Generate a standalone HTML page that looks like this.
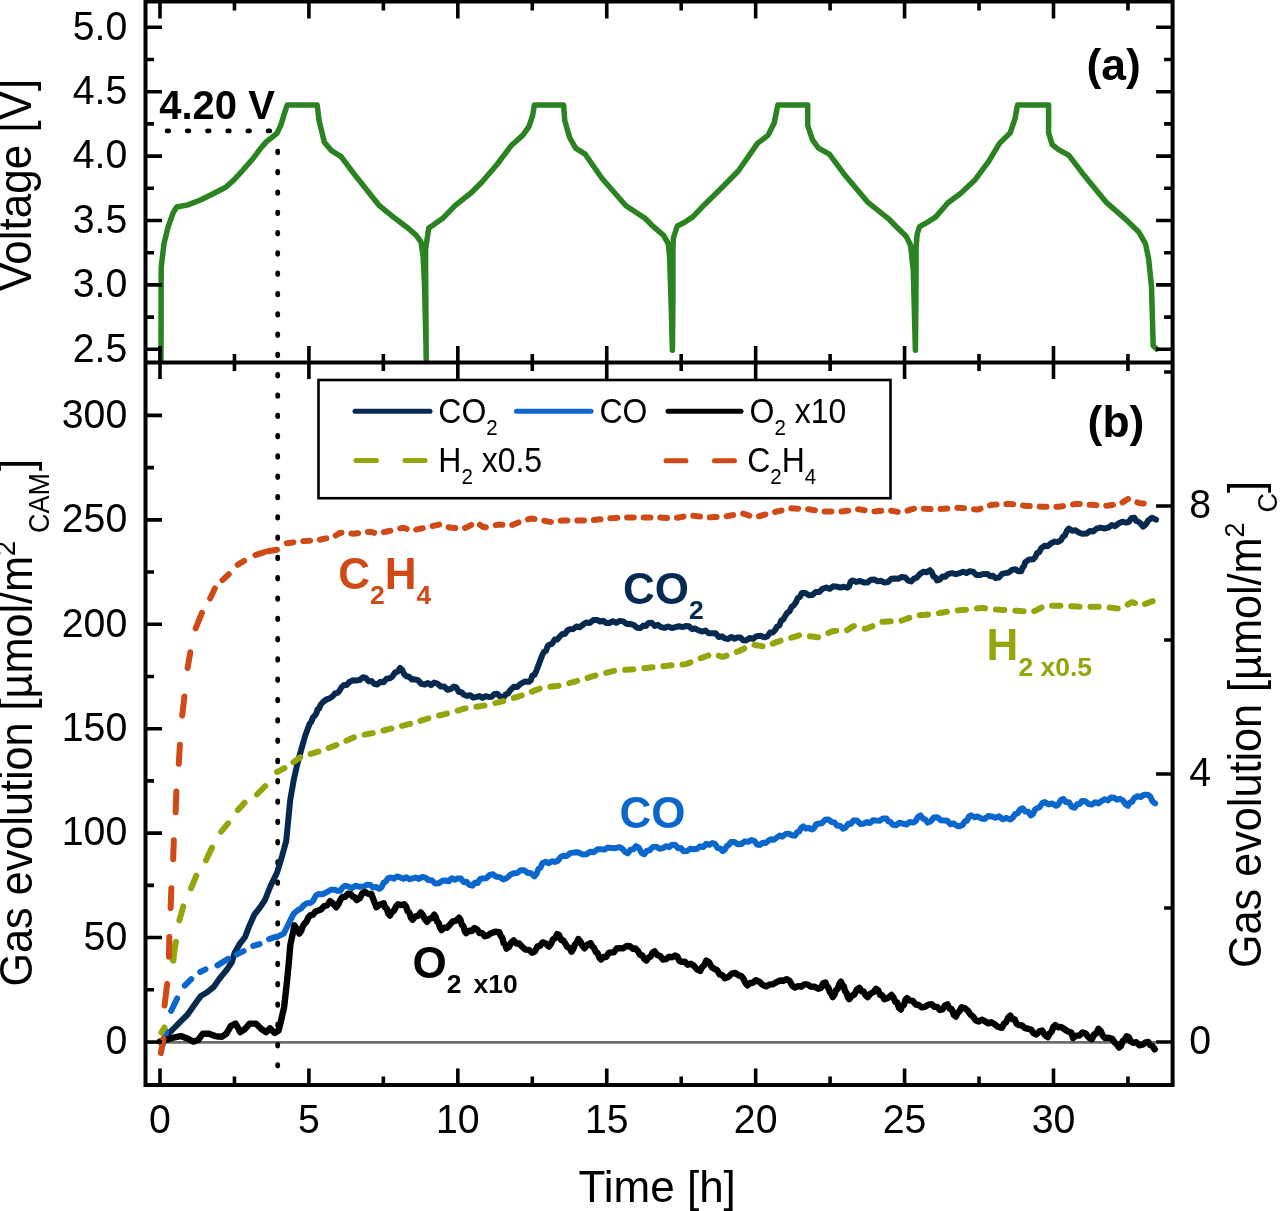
<!DOCTYPE html>
<html><head><meta charset="utf-8"><title>Gas evolution</title>
<style>html,body{margin:0;padding:0;background:#fff;}svg{display:block;}</style>
</head><body>
<svg width="1280" height="1211" viewBox="0 0 1280 1211" font-family="'Liberation Sans', Arial, Helvetica, sans-serif">

<rect x="0" y="0" width="1280" height="1211" fill="#fff"/>
<path d="M147.5 1042.4 H1156" stroke="#6d6d6d" stroke-width="2.8" fill="none"/>
<path d="M277.7 151.2 V1066" stroke="#000" stroke-width="4.8" stroke-linecap="round" stroke-dasharray="1.6 18.7" fill="none"/>
<path d="M167.1 130.9 H272" stroke="#000" stroke-width="4.8" stroke-linecap="round" stroke-dasharray="1.6 18.6" fill="none"/>
<path d="M161 360 L161.2 267.3 L164 243.5 L168.2 226.6 L173.2 212.6 L176.7 207 L187.9 204.9 L200.5 200 L213.1 193.7 L225.8 187.3 L234.2 179.6 L242.6 170.5 L252.4 159.3 L260.8 148.1 L266.5 141.7 L277 133.3 L281.2 124.2 L283.6 115.9 L287.2 105 L317.2 105 L319.1 120.7 L324.3 142.2 L331.5 150.6 L341.1 156.6 L355.5 175.8 L379.4 205.7 L395 218.3 L406.2 226.7 L416.1 235.1 L421 242.1 L423.1 256.2 L424.5 284.3 L425.9 340.4 L426.2 359.5 L426 330 L425.6 270 L425.6 249.2 L428.7 228.1 L432.9 225.3 L442.8 218.3 L455 205.6 L471.5 192.5 L482.2 181.7 L496.6 165 L511 145.8 L522.9 135.1 L528.9 126.7 L532.5 115.9 L534.4 105 L563.6 105 L564.8 120.7 L569.6 137.5 L575.6 148.2 L585.2 154.2 L601.9 178.2 L625.9 205.7 L645 218.3 L653.4 226.7 L663.3 235.1 L668.2 243.5 L669.6 256.2 L671 298.3 L672.4 350.3 L672.9 300 L672.9 249 L673.4 238 L677.3 226 L684.3 222.5 L692.8 216.9 L705 204.2 L720.5 189 L738.3 171 L757.5 143.4 L768.2 135.1 L774.2 123.1 L777.8 105 L807.7 105 L807.7 125.5 L812.5 139.9 L818.5 148.2 L829.3 154.2 L843.6 173.4 L867.6 202.1 L888 218.3 L896.4 226.7 L906.3 236.5 L910.5 245 L913.3 270.2 L915.4 350.3 L915.9 300 L916.1 246.3 L917.2 234 L919.6 226.7 L925.9 223.2 L935.8 216.9 L948 202.8 L960.5 193.5 L974.4 180.6 L988.7 161.4 L999.5 143.4 L1010.3 132.7 L1015.1 118.3 L1017.5 105 L1048.6 105 L1048.6 132.7 L1052.2 144.6 L1058.2 149.4 L1068.9 155.4 L1084.5 175.8 L1106 202.1 L1125.2 218.9 L1139 232.3 L1145.6 244 L1148.75 259.7 L1151.5 287 L1153.2 345.6 L1156.6 349" stroke="#2b8221" stroke-width="5.5" fill="none" stroke-linejoin="round" stroke-linecap="round"/>
<path d="M162.2 1043.1 L163.77 1040.5 L165.33 1037.9 L166.9 1035.3 L169.24 1032.95 L171.57 1030.6 L173.91 1028.25 L176.25 1025.9 L178.99 1023.18 L181.72 1020.45 L184.46 1017.73 L187.2 1015 L189.15 1012.25 L191.1 1009.5 L193.05 1006.75 L195 1004 L196.93 1001.33 L198.87 998.67 L200.8 996 L203.8 994.25 L206.8 992.5 L210.1 989.85 L213.4 987.2 L215.6 984.13 L217.8 981.07 L220 978 L222.2 975.33 L224.4 972.67 L226.6 970 L228.37 967.37 L230.13 964.73 L231.9 962.1 L232.8 959.03 L233.7 955.97 L234.6 952.9 L236.37 949.8 L238.13 946.7 L239.9 943.6 L242.5 940.3 L245.1 937 L246.43 933.47 L247.77 929.93 L249.1 926.4 L250.43 923.42 L251.75 920.45 L253.07 917.48 L254.4 914.5 L257.05 911.2 L259.7 907.9 L261.47 905.27 L263.23 902.63 L265 900 L266.38 896.5 L267.75 893 L269.12 889.5 L270.5 886 L272.15 882.62 L273.8 879.25 L275.45 875.88 L277.1 872.5 L278.1 869.2 L279.1 865.9 L280.1 862.6 L281.1 859.3 L282.1 856 L283.12 852.27 L284.15 848.55 L285.18 844.83 L286.2 841.1 L286.55 837.58 L286.9 834.07 L287.25 830.55 L287.6 827.03 L287.95 823.52 L288.3 820 L288.62 816.67 L288.93 813.33 L289.25 810 L289.57 806.67 L289.88 803.33 L290.2 800 L290.82 796.52 L291.43 793.03 L292.05 789.55 L292.67 786.07 L293.28 782.58 L293.9 779.1 L294.75 775.38 L295.6 771.65 L296.45 767.93 L297.3 764.2 L298.3 760.5 L299.3 756.8 L300.3 753.1 L301.3 749.4 L302.3 745.92 L303.3 742.45 L304.3 738.98 L305.3 735.5 L306.4 732.52 L307.5 729.55 L308.6 726.58 L309.7 723.6 L311.37 721.67 L313.03 717.39 L314.7 715.7 L316.18 713.78 L317.65 709.26 L319.12 708.53 L320.6 704.8 L323.6 701.48 L326.6 699.3 L329.55 698.38 L332.5 696.4 L335 693.48 L337.5 692.9 L339.45 690.87 L341.4 687.4 L344.07 684.9 L346.73 685.1 L349.4 682 L352.7 680.36 L356 680.5 L359.45 680.07 L362.9 677.3 L365.78 677.85 L368.66 681.2 L371.54 680.98 L374.42 684.08 L377.3 684.5 L380.4 681.75 L383.5 682.33 L386.6 678.75 L389.7 678.3 L392.3 676.77 L394.9 672.58 L397.5 671.69 L400.1 668 L402.13 669.75 L404.17 674.22 L406.2 676.2 L408.97 676.69 L411.73 679.46 L414.5 679.3 L417.93 680.14 L421.37 683.85 L424.8 684.5 L427.9 683.04 L431 685.08 L434.1 682.51 L437.2 683.5 L440.63 686.39 L444.07 686.49 L447.5 689.7 L450.6 689.02 L453.7 686.6 L456.27 687.4 L458.85 691.91 L461.43 692.15 L464 694.8 L467.1 695.95 L470.2 695.16 L473.3 697.65 L476.4 696.9 L479.5 696.04 L482.6 697.91 L485.7 696.15 L488.8 696.9 L491.57 696.78 L494.33 694.01 L497.1 693.8 L500.2 696.64 L503.3 697.9 L505.63 694.32 L507.97 693.68 L510.3 690.1 L513.73 686.81 L517.17 687.02 L520.6 683.9 L524.75 681.61 L528.9 681.8 L530.7 680.41 L532.5 675.36 L534.3 675.12 L536.1 671.5 L537.34 668.2 L538.58 664.9 L539.82 661.6 L541.06 658.3 L542.3 655 L544.1 651.75 L545.9 650.99 L547.7 645.93 L549.5 644.6 L552.1 643.78 L554.7 639.54 L557.3 639.53 L559.9 636.4 L562.48 633.92 L565.05 633.97 L567.62 630.03 L570.2 629.2 L573.3 628.89 L576.4 626.53 L579.5 627.24 L582.6 625 L586.2 622.43 L589.8 623.04 L593.4 620.03 L597 619.9 L600.1 621.52 L603.2 620.81 L606.3 622.97 L609.4 623 L612.83 621.18 L616.27 622.8 L619.7 620.9 L623.17 621.38 L626.63 623.97 L630.1 624 L633.53 624.81 L636.97 627.81 L640.4 628.1 L643.13 625.62 L645.87 625.91 L648.6 623 L651.7 622.74 L654.8 625.96 L657.9 624.78 L661 627.1 L664.62 627.86 L668.25 626.52 L671.88 628.09 L675.5 627.1 L678.93 626.22 L682.37 627.11 L685.8 626.1 L688.9 626.29 L692 629.15 L695.1 628.53 L698.2 630.2 L701.8 631.53 L705.4 630.55 L709 633.29 L712.6 633.3 L715.7 633.31 L718.8 637.07 L721.9 636.31 L725 638.4 L728.1 639.03 L731.2 636.97 L734.3 638.67 L737.4 637.4 L740.33 637.42 L743.27 640.36 L746.2 640.4 L749.63 638 L753.07 638.85 L756.5 636.2 L760.65 635.83 L764.8 637.3 L767.38 636.36 L769.95 632.62 L772.52 632.61 L775.1 630.1 L777.16 626.45 L779.22 625.58 L781.28 620.47 L783.34 619.45 L785.4 615.6 L787.48 612.5 L789.55 611.29 L791.62 606.9 L793.7 605.3 L795.75 602.74 L797.8 598.1 L799.85 597.01 L801.9 592.9 L805.37 593.03 L808.83 595.31 L812.3 595 L815.73 592.05 L819.17 591.92 L822.6 588.8 L826.2 587.48 L829.8 588.82 L833.4 586.13 L837 586.7 L840.43 587.57 L843.87 586.8 L847.3 587.7 L849.03 586.35 L850.77 581.63 L852.5 580.5 L856.3 581.92 L860.1 581.02 L863.9 582.6 L867.33 582.55 L870.77 579.76 L874.2 579.5 L877.63 581.34 L881.07 580.8 L884.5 582.6 L887.93 582.01 L891.37 578.82 L894.8 578.4 L898.27 578.82 L901.73 576.92 L905.2 577.4 L908.25 580.57 L911.3 581.5 L914.07 578.56 L916.83 577.66 L919.6 574.3 L923.03 571.84 L926.47 572.33 L929.9 570.2 L931.7 572.08 L933.5 576.5 L935.3 577.22 L937.1 580.5 L939.8 579.57 L942.5 576.44 L945.2 576.76 L947.9 574.1 L951.87 573.17 L955.83 574.2 L959.8 573.1 L963.1 571.69 L966.4 573 L969.7 571.2 L973 571.64 L976.3 574.99 L979.6 575.1 L983.6 573.95 L987.6 574.1 L990.23 576.22 L992.87 575.74 L995.5 578.1 L998.8 577.64 L1002.1 573.89 L1005.4 573.1 L1008.7 572.5 L1012 569.89 L1015.3 569.2 L1018.3 571.13 L1021.3 571.2 L1022.6 567.53 L1023.9 566.35 L1025.2 562.2 L1029.15 559.58 L1033.1 559.3 L1035.1 557.24 L1037.1 553.11 L1039.1 552.27 L1041.1 548.4 L1044.4 545.71 L1047.7 546.22 L1051 543.4 L1054.3 541.61 L1057.6 542.02 L1060.9 540.4 L1062.88 536.7 L1064.85 535.64 L1066.83 530.82 L1068.8 528.6 L1072.1 530.69 L1075.4 530.35 L1078.7 532.5 L1082.65 533.85 L1086.6 533.5 L1089.93 531.03 L1093.27 531.47 L1096.6 528.6 L1100.53 527.62 L1104.47 528.46 L1108.4 527.6 L1111.73 525.01 L1115.07 526.14 L1118.4 523.6 L1122.35 521.81 L1126.3 522.6 L1128.93 521.83 L1131.57 518.07 L1134.2 517.7 L1136.2 520.89 L1138.2 521.6 L1140.65 523.41 L1143.1 526.6 L1145.6 524.7 L1148.1 520.6 L1152 517.7 L1156 519.6" stroke="#06294f" stroke-width="6.0" fill="none" stroke-linejoin="round" stroke-linecap="round"/>
<path d="M277.1 936.9 L280.4 935.25 L283.7 933.6 L285.37 930.3 L287.03 927 L288.7 923.7 L290.33 920.4 L291.97 917.1 L293.6 913.8 L296.08 911.72 L298.55 909.65 L301.02 908.58 L303.5 905.5 L306.85 903.15 L310.2 903 L312.93 901.14 L315.67 895.74 L318.4 894 L322.55 894.25 L326.7 892.3 L330.8 889.81 L334.9 889.8 L337.6 890.84 L340.3 890.8 L342.65 887.37 L345 885.7 L348.6 886.7 L352.03 887.96 L355.47 885.67 L358.9 886.7 L363.05 886.87 L367.2 884.6 L370.27 885.04 L373.35 887.59 L376.43 887.04 L379.5 888.8 L381.57 887.14 L383.65 882.63 L385.73 881.53 L387.8 878.4 L390.9 877.46 L394 878.64 L397.1 876.42 L400.2 877.4 L403.3 878.77 L406.4 877.26 L409.5 879.29 L412.6 878.4 L415.7 877.52 L418.8 878.9 L421.9 877.03 L425 877.4 L428.43 879.99 L431.87 880.33 L435.3 883.6 L438.73 883.25 L442.17 880.85 L445.6 880.5 L448.7 881.26 L451.8 878.25 L454.9 879.67 L458 878.4 L460.88 878.59 L463.76 882.26 L466.64 881.73 L469.52 884.92 L472.4 885.7 L475 882.62 L477.6 883.11 L480.2 878.95 L482.8 878.4 L486.23 878.25 L489.67 874.91 L493.1 874.3 L496.53 876.84 L499.97 877.12 L503.4 879.5 L506.83 878.07 L510.27 874.8 L513.7 873.3 L517.17 873.02 L520.63 870.24 L524.1 870.2 L527.53 872.79 L530.97 873.28 L534.4 876.4 L536.45 873.83 L538.5 868.94 L540.55 867.51 L542.6 863 L545.7 861.83 L548.8 863.22 L551.9 861.28 L555 861.9 L557.77 860.9 L560.53 857.2 L563.3 855.7 L566.73 855.95 L570.17 853.1 L573.6 852.6 L578.3 852.3 L582.4 854.4 L586.5 854.3 L590.12 851.85 L593.75 852.28 L597.38 849.34 L601 849.2 L604.43 849.64 L607.87 847.5 L611.3 848.1 L615.4 848.13 L619.5 847.1 L622.27 848.61 L625.03 851.89 L627.8 853.3 L630.57 849.63 L633.33 849.17 L636.1 846.1 L638.83 847.72 L641.57 852.81 L644.3 854.3 L647.07 850.65 L649.83 850.29 L652.6 847.1 L656.03 846.64 L659.47 848.7 L662.9 848.1 L666 846.2 L669.1 847.15 L672.2 844.67 L675.3 845 L678.03 848.21 L680.77 847.94 L683.5 851.2 L686.97 851.08 L690.43 848.61 L693.9 849.2 L696.98 848.76 L700.07 846.35 L703.15 847.1 L706.23 843.83 L709.32 844.82 L712.4 843 L715 843.81 L717.6 848.05 L720.2 848.39 L722.8 851.2 L724.85 849.64 L726.9 845.89 L728.95 844.81 L731 841.9 L734.43 841.96 L737.87 844.36 L741.3 844 L744.77 841.34 L748.23 841.91 L751.7 839.9 L754.43 841.04 L757.17 844.59 L759.9 845 L762.67 842.7 L765.43 843.1 L768.2 840.9 L770.93 839.16 L773.67 839.82 L776.4 837.8 L779.5 835.61 L782.6 836.63 L785.7 833.88 L788.8 833.7 L791.9 835.26 L795 835.7 L797.08 832.14 L799.15 831.6 L801.22 827.82 L803.3 826.4 L806.03 828.61 L808.77 827.84 L811.5 829.5 L813.77 828.66 L816.03 824.37 L818.3 823.7 L821.73 823.31 L825.17 819.77 L828.6 819.5 L831.48 821.96 L834.36 822.36 L837.24 825.72 L840.12 825.76 L843 828.8 L845.6 827.5 L848.2 823.83 L850.8 823.95 L853.4 820.6 L856.83 820.45 L860.27 823.95 L863.7 823.7 L866.8 822.05 L869.9 823.05 L873 820.29 L876.1 820.6 L879.53 820.79 L882.97 818.45 L886.4 818.5 L888.47 821.4 L890.53 822 L892.6 824.7 L896.03 825.18 L899.47 822.74 L902.9 823.7 L906.33 824.6 L909.77 821.96 L913.2 822.6 L915.6 821.11 L918 817.02 L920.4 815.4 L922.83 818.39 L925.27 819.47 L927.7 822.6 L930.8 821.18 L933.9 817.5 L937.33 817.34 L940.77 820.37 L944.2 820.6 L947.3 820.74 L950.4 824.27 L953.5 823.36 L956.6 825.7 L959.7 826.24 L962.8 824.7 L964.85 821.26 L966.9 820.85 L968.95 816.66 L971 815.4 L974.43 817.17 L977.87 816.57 L981.3 818.5 L984.77 818.92 L988.23 816.04 L991.7 816.4 L995.4 817.77 L999.1 816.38 L1002.8 819.29 L1006.5 817.91 L1010.2 819.5 L1012.68 817.77 L1015.16 814.03 L1017.64 813.44 L1020.12 809.42 L1022.6 808.2 L1025.37 811.48 L1028.13 811.84 L1030.9 815.4 L1032.97 814.03 L1035.03 809.46 L1037.1 808.2 L1039.7 806.96 L1042.3 803.11 L1044.9 802.1 L1048.6 804.43 L1052.3 803.4 L1056 805.8 L1058.47 804.33 L1060.93 800.09 L1063.4 799 L1066.2 802.37 L1069 802.29 L1071.8 806.81 L1074.6 807.7 L1077.07 804.17 L1079.53 804.09 L1082 800.9 L1085.3 801.2 L1088.6 804.02 L1091.9 804.6 L1095.2 802.19 L1098.5 803.38 L1101.8 800.9 L1104.9 799.23 L1108 800.41 L1111.1 797.49 L1114.2 797.8 L1117.1 799.72 L1120 798.81 L1122.9 800.3 L1125.4 804.18 L1127.9 805.8 L1129.93 802.36 L1131.97 801.91 L1134 798.4 L1137.33 796.32 L1140.67 796.94 L1144 794.7 L1147.7 794.7 L1150.17 796.48 L1152.63 801.52 L1155.1 803.4" stroke="#0b67cc" stroke-width="6.0" fill="none" stroke-linejoin="round" stroke-linecap="round"/>
<path d="M162.86 1044.54 L166.14 1031.46 M171.15 1010.95 L177.15 998.45 M184.76 985.54 L191.24 979.06 M200.24 972.02 L205.46 969.38 M217.38 965.32 L228.02 958.88 M236.86 954.36 L243.64 951.14 M253.24 945.88 L259.56 944.02 M269.02 939.12 L275.68 936.88" stroke="#0b67cc" stroke-width="6.0" fill="none" stroke-linecap="round"/>
<path d="M159.8 1041.6 L162.55 1040.8 L165.3 1040 L169.2 1038.85 L173.1 1037.7 L177 1036.9 L180.9 1036.1 L184.05 1037.25 L187.2 1038.4 L190.3 1040 L193.4 1041.6 L198.1 1040 L200.45 1036.88 L202.8 1033.75 L205.95 1033.75 L209.1 1033.75 L212.2 1034.92 L215.3 1036.1 L218.45 1036.5 L221.6 1036.9 L223.93 1035.33 L226.25 1033.75 L227.8 1031.13 L229.35 1028.52 L230.9 1025.9 L235.6 1023.6 L237.17 1026.47 L238.73 1029.33 L240.3 1032.2 L242.65 1030.6 L245 1029 L247.35 1026.3 L249.7 1023.6 L252.8 1023.6 L255.9 1023.6 L258.65 1026.3 L261.4 1029 L263.75 1030.6 L266.1 1032.2 L268.05 1030.25 L270 1028.3 L272.35 1030.65 L274.7 1033 L278.6 1030.6 L279.37 1027.48 L280.13 1024.37 L280.9 1021.25 L281.7 1017.74 L282.5 1014.23 L283.3 1010.71 L284.1 1007.2 L284.48 1003.82 L284.87 1000.43 L285.25 997.05 L285.63 993.67 L286.02 990.28 L286.4 986.9 L286.74 983.54 L287.07 980.19 L287.41 976.83 L287.74 973.47 L288.08 970.11 L288.41 966.76 L288.75 963.4 L289.06 959.76 L289.37 956.12 L289.68 952.48 L289.99 948.84 L290.3 945.2 L291 941.88 L291.7 938.57 L292.4 935.25 L293.1 931.93 L293.8 928.62 L294.5 925.3 L296.13 928.07 L297.77 930.83 L299.4 933.6 L301.07 931.07 L302.73 926.36 L304.4 923.7 L306.33 921.96 L308.27 917.59 L310.2 915.4 L312.93 914.7 L315.67 911.33 L318.4 910.5 L321.17 909.4 L323.93 906.25 L326.7 905.5 L328.35 903.9 L330 901.2 L333.1 903.39 L336.2 907.3 L338.27 904.44 L340.33 899.84 L342.4 897 L345.13 896.82 L347.87 893.77 L350.6 893.9 L352.67 896.58 L354.73 897.34 L356.8 900.1 L359.57 898.38 L362.33 893.37 L365.1 891.9 L368.2 893.87 L371.3 893.9 L372.57 897.25 L373.85 900.6 L375.12 903.95 L376.4 907.3 L380.05 904.42 L383.7 903.2 L385.25 907.58 L386.8 908.84 L388.35 913.69 L389.9 915.6 L391.95 912.03 L394 910.58 L396.05 906.51 L398.1 904.3 L401.2 905.06 L404.3 904.3 L405.96 906.22 L407.62 911.12 L409.28 912.57 L410.94 917.64 L412.6 919.7 L415.33 916.49 L418.07 915.85 L420.8 912.5 L422.87 915.03 L424.93 919.27 L427 921.8 L429.43 918.72 L431.87 918.05 L434.3 914.6 L435.74 916.85 L437.18 921.57 L438.62 922.92 L440.06 927.87 L441.5 930.1 L444.23 927.61 L446.97 927.77 L449.7 924.9 L452.8 921.43 L455.9 920.81 L459 917.7 L460.44 919.83 L461.88 924.83 L463.32 925.8 L464.76 931.19 L466.2 933.2 L468.97 930.72 L471.73 931.02 L474.5 928 L477.07 929.46 L479.65 933 L482.23 933.11 L484.8 936.3 L487.9 935.39 L491 933.2 L495.15 931.75 L499.3 932.1 L500.74 935.95 L502.18 937.66 L503.62 943.12 L505.06 944.33 L506.5 948.6 L508.9 947.07 L511.3 942.37 L513.7 940.4 L516.47 943.53 L519.23 943.55 L522 946.6 L525.43 949.64 L528.87 949.86 L532.3 952.8 L534.88 951.38 L537.45 946.34 L540.02 945.89 L542.6 942.4 L545.7 943.46 L548.8 946.6 L550.88 944.07 L552.95 939.33 L555.02 938.32 L557.1 934.2 L559.15 935.23 L561.2 940.01 L563.25 940.43 L565.3 943.5 L567.37 947.05 L569.43 947.93 L571.5 951.7 L573.2 949.06 L574.9 944.47 L576.6 942.83 L578.3 939 L580.37 941.49 L582.43 945.77 L584.5 948.3 L587.55 944.58 L590.6 943.1 L592.33 946.47 L594.07 947.89 L595.8 952.17 L597.53 952.9 L599.27 957.43 L601 959.6 L603.58 956.93 L606.15 956.95 L608.72 952.99 L611.3 952.4 L614.03 952.19 L616.77 948.47 L619.5 948.3 L622.97 948.34 L626.43 946.06 L629.9 946.2 L632.63 948.7 L635.37 948.39 L638.1 951.3 L640.17 954.89 L642.25 955.31 L644.33 958.93 L646.4 960.6 L648.45 957.57 L650.5 956.65 L652.55 952.73 L654.6 951.3 L657.37 955.05 L660.13 956.11 L662.9 959.6 L666 959.1 L669.1 956.7 L672.2 957.33 L675.3 955.5 L677.37 956.6 L679.43 960.9 L681.5 961.7 L684.6 961.67 L687.7 964.67 L690.8 963.77 L693.9 965.8 L697 969.45 L700.1 971 L702.17 966.97 L704.23 965.29 L706.3 960.6 L709.03 962.24 L711.77 967.34 L714.5 968.9 L717.08 970.08 L719.65 974.38 L722.22 975.04 L724.8 978.2 L728.27 977.07 L731.73 973.72 L735.2 973 L738.25 975.12 L741.3 976.1 L743.37 978.63 L745.43 982.98 L747.5 985.4 L750.27 983.02 L753.03 982.72 L755.8 980.2 L759.23 981.71 L762.67 984.85 L766.1 986.4 L769.53 984.4 L772.97 984.27 L776.4 982.3 L779.87 980.46 L783.33 980.77 L786.8 979.2 L789.53 980.76 L792.27 985.73 L795 987.5 L798.1 986.09 L801.2 986.67 L804.3 984.38 L807.4 984.4 L811.03 986.67 L814.67 986.72 L818.3 988.8 L820.7 987.92 L823.1 983.37 L825.5 982.6 L826.94 986.38 L828.38 987.5 L829.82 991.89 L831.26 993.6 L832.7 997.1 L834.36 994.79 L836.02 990.17 L837.68 988.97 L839.34 984.05 L841 981.6 L842.37 985.07 L843.73 986.2 L845.1 991.33 L846.47 992.7 L847.83 997.21 L849.2 999.2 L851.78 995.81 L854.35 994.43 L856.92 989.37 L859.5 987.8 L861.58 991.32 L863.65 991.39 L865.72 995.5 L867.8 997.1 L870.57 993.53 L873.33 992.22 L876.1 988.8 L878.15 990.28 L880.2 994.94 L882.25 995.47 L884.3 999.2 L887.9 997.88 L891.5 995 L893.36 997.21 L895.22 1001.95 L897.08 1002.41 L898.94 1007.79 L900.8 1009.5 L902.35 1005.5 L903.9 1004.96 L905.45 999.85 L907 998.1 L909.9 1000.66 L912.8 1000.9 L915.7 1004.48 L918.6 1005 L921.5 1007.4 L924.93 1006.91 L928.37 1004.6 L931.8 1004.3 L934.53 1006.92 L937.27 1007.04 L940 1010 L942.5 1009.4 L945 1005.4 L947.5 1004.4 L949.6 1008.7 L951.7 1009.21 L953.8 1014.81 L955.9 1016.6 L957.8 1012.66 L959.7 1011.03 L961.6 1007.2 L964.85 1008.35 L968.1 1010.9 L970.6 1014.71 L973.1 1016.49 L975.6 1020.3 L978.73 1021.62 L981.87 1019.71 L985 1021.25 L988.13 1023.38 L991.27 1022.26 L994.4 1024.1 L998.15 1026.98 L1001.9 1027.8 L1004 1023.61 L1006.1 1022.29 L1008.2 1017.61 L1010.3 1015.6 L1012.41 1019.18 L1014.52 1019.17 L1016.64 1023.76 L1018.75 1025 L1021.87 1025.36 L1024.98 1028.16 L1028.1 1028.75 L1030.93 1029.5 L1033.77 1033.3 L1036.6 1034.4 L1039.4 1031.36 L1042.2 1030.6 L1045 1035.18 L1047.8 1037.2 L1049.67 1033.32 L1051.55 1031.93 L1053.42 1026.79 L1055.3 1025 L1058.12 1027.34 L1060.93 1026.85 L1063.75 1028.75 L1067.5 1031.24 L1071.25 1032.5 L1072.17 1035.3 L1073.1 1038.1 L1076.23 1035.6 L1079.37 1035.59 L1082.5 1032.5 L1085.63 1033.55 L1088.77 1037.53 L1091.9 1039.1 L1094.07 1034.49 L1096.23 1033.48 L1098.4 1028.75 L1100.6 1030.83 L1102.8 1035.78 L1105 1038.1 L1108.75 1037.65 L1112.5 1039.1 L1114.67 1042.52 L1116.83 1044.17 L1119 1047.5 L1120.9 1045.96 L1122.8 1040.85 L1124.7 1039.99 L1126.6 1036.25 L1128.77 1037.19 L1130.93 1041.48 L1133.1 1042.8 L1136.23 1042.23 L1139.37 1045.23 L1142.5 1044.7 L1145.3 1042.62 L1148.1 1041.9 L1150.3 1045.12 L1152.5 1046.15 L1154.7 1049.4" stroke="#000" stroke-width="6.4" fill="none" stroke-linejoin="round" stroke-linecap="round"/>
<path d="M161.46 1032.53 L164.44 1027.47 M172.6 960.23 L175.95 941.67 M175.4 942.69 L173.3 960.81 M183.34 906.34 L179.36 920.36 M196.34 875.67 L191.06 888.23 M211.98 847.64 L206.02 860.26 M228.1 823.4 L221.2 831.6 M244.56 802.76 L237.84 810.14 M265.2 786.2 L256.9 794.5 M277 772 L278.81 771.07 L280.62 770.13 L282.43 769.2 L284.24 768.27 L284.46 768.15 M293.44 762.17 L295.08 761.01 L296.71 759.85 L298.35 758.69 L299.98 757.53 L300.18 757.38 M310.58 753.92 L312.5 753.34 L314.41 752.76 L316.33 752.19 L318.25 751.61 L318.49 751.54 M328.67 747.94 L330.56 747.23 L332.44 746.53 L334.33 745.82 L336.21 745.11 L336.45 745.02 M346.37 740.71 L348.2 739.89 L350.04 739.07 L351.88 738.25 L353.71 737.43 L353.94 737.33 M364.58 734.62 L366.55 734.25 L368.52 733.88 L370.49 733.51 L372.46 733.14 L372.71 733.09 M383.43 730.48 L385.38 730 L387.32 729.52 L389.27 729.04 L391.22 728.56 L391.46 728.5 M401.99 725.86 L403.95 725.36 L405.92 724.87 L407.88 724.37 L409.84 723.88 L410.09 723.81 M420.48 720.82 L422.39 720.21 L424.3 719.61 L426.22 719.01 L428.13 718.4 L428.37 718.33 M439.01 715.51 L440.95 715.03 L442.89 714.55 L444.83 714.06 L446.77 713.58 L447.01 713.52 M457.65 710.56 L459.58 710.02 L461.51 709.48 L463.44 708.94 L465.38 708.4 L465.62 708.34 M476.33 706.72 L478.32 706.43 L480.32 706.14 L482.31 705.85 L484.31 705.56 L484.56 705.53 M495.29 703.04 L497.23 702.54 L499.18 702.05 L501.12 701.56 L503.06 701.06 L503.3 701 M513.74 697.93 L515.69 697.36 L517.63 696.79 L519.57 696.21 L521.48 695.55 L521.72 695.46 M531.86 691.6 L533.75 690.88 L535.64 690.16 L537.52 689.44 L539.41 688.72 L539.65 688.63 M550.3 686.85 L552.3 686.6 L554.3 686.35 L556.3 686.09 L558.29 685.78 L558.53 685.72 M569.2 683.07 L571.15 682.58 L573.09 682.1 L575.02 681.58 L576.95 681.01 L577.19 680.93 M587.54 677.83 L589.46 677.26 L591.39 676.68 L593.32 676.1 L595.25 675.54 L595.49 675.48 M606.04 672.81 L608 672.32 L609.96 671.82 L611.92 671.33 L613.88 670.83 L614.13 670.77 M625.1 669.82 L627.1 669.7 L629.1 669.58 L631.1 669.46 L633.1 669.3 L633.35 669.27 M644.32 668.16 L646.32 667.96 L648.31 667.76 L650.31 667.55 L652.3 667.35 L652.55 667.33 M663.3 666.16 L665.3 665.95 L667.3 665.73 L669.3 665.52 L671.3 665.3 L671.55 665.28 M682.55 664.52 L684.55 664.39 L686.74 663.91 L688.61 663.12 L690.48 662.34 M700.56 658.25 L702.45 657.57 L704.34 656.88 L706.23 656.2 L708.11 655.52 L708.35 655.43 M718.65 655.7 L720.58 656.28 L722.52 656.86 L724.67 656.38 L726.57 655.68 M736.8 651.9 L738.7 651.2 L740.5 650.32 L742.29 649.44 L744.09 648.56 L744.31 648.45 M754.38 644.84 L756.37 645.17 L758.35 645.51 L760.34 645.84 L762.32 646.18 L762.57 646.22 M772.81 643.59 L774.7 642.88 L776.59 642.17 L778.47 641.46 L780.36 640.75 L780.59 640.67 M791.2 637.63 L793.14 637.09 L795.07 636.55 L797 636.01 L798.93 635.47 L799.18 635.4 M809.9 636.34 L811.9 636.56 L813.9 636.79 L815.9 637.02 L817.9 637.24 L818.15 637.27 M828.3 633.07 L830.14 632.28 L831.98 631.49 L834.16 631.01 L836.18 630.87 M847.05 630.12 L848.8 629.09 L850.51 627.93 L852.22 626.77 L853.99 626.02 M864.68 628.7 L866.82 628.6 L868.65 627.8 L870.48 627 L872.32 626.2 M882.4 621.8 L884.41 621.69 L886.42 621.58 L888.43 621.48 L890.44 621.37 L890.69 621.35 M901.48 620.63 L903.38 619.95 L905.28 619.27 L907.18 618.58 L909.08 617.9 L909.32 617.82 M919.77 615.23 L921.78 615.06 L923.79 614.89 L925.81 614.71 L927.82 614.54 L928.07 614.52 M938.8 613.16 L940.77 612.8 L942.75 612.44 L944.73 612.09 L946.71 611.73 L946.96 611.69 M957.71 610.38 L959.73 610.24 L961.76 610.09 L963.78 609.95 L965.8 609.8 L966.05 609.77 M976.83 608.4 L978.84 608.15 L980.85 607.9 L983.09 607.97 L985.08 608.19 M996.02 609.41 L998.01 609.63 L1000 609.83 L1002.01 609.94 L1004.01 610.05 L1004.26 610.07 M1015.29 610.69 L1017.3 610.8 L1019.31 610.93 L1021.31 611.05 L1023.32 611.18 L1023.57 611.2 M1034.22 611.23 L1036.02 610.33 L1037.82 609.42 L1039.61 608.52 L1041.41 607.61 L1041.63 607.5 M1052.06 605.8 L1054.08 605.8 L1056.09 605.8 L1058.11 605.8 L1060.13 605.8 L1060.38 605.8 M1071.17 606.22 L1073.18 606.32 L1075.18 606.42 L1077.19 606.52 L1079.19 606.62 L1079.44 606.64 M1090.47 606.8 L1092.47 606.8 L1094.48 606.8 L1096.48 606.8 L1098.49 606.8 L1098.74 606.8 M1109.52 607.59 L1111.53 607.81 L1113.53 608.04 L1115.54 608.26 L1117.54 608.49 L1117.79 608.52 M1127.66 604.53 L1129.39 603.53 L1131.12 602.53 L1133.11 602.35 L1134.94 603.24 M1144.92 604.04 L1146.8 603.33 L1148.69 602.63 L1150.58 601.93 L1152.46 601.22 L1152.7 601.13" stroke="#95a50c" stroke-width="6.0" fill="none" stroke-linecap="round"/>
<path d="M160.89 1053.13 L163.46 1038.57 M164.51 1005.51 L167.19 983.89 M168.94 956.7 L169.36 936.9 M170.66 907.9 L171.34 888.2 M173.16 859.2 L173.84 840.3 M175.66 812.2 L176.34 791.6 M178.8 763.8 L179.9 744.7 M182.2 715.61 L184.4 696.49 M187.59 668.02 L190.31 652.28 M195.63 628.42 L201.87 612.83 M210.13 598.46 L214.87 588.44 M222.49 580.09 L228.76 574.26 M237.71 564.73 L244.14 560.87 M255.36 555.06 L264.39 552.04 M267.68 551.22 L277.07 549.68 M286.7 543.2 L288.71 542.95 L290.71 542.7 L292.72 542.45 L293.47 542.35 M303.25 541.13 L305.26 540.99 L307.26 540.87 L309.27 540.75 L310.02 540.71 M319.76 539.71 L321.73 539.31 L323.7 538.92 L325.67 538.53 L326.4 538.38 M335.67 535.52 L337.4 534.45 L339.12 533.37 L341.21 532.77 L341.47 532.79 M351.36 533.49 L353.39 533.63 L355.4 533.57 L357.39 533.31 L358.14 533.22 M367.86 531.96 L369.85 531.7 L372.06 532.1 L374.02 532.78 L374.26 532.86 M383.8 532.15 L385.76 531.72 L387.72 531.29 L389.68 530.87 L390.41 530.71 M400.17 528.32 L402.12 527.84 L404.3 528.04 L406.22 528.75 L406.7 528.92 M416.16 529.57 L418.13 529.15 L420.09 528.74 L422.06 528.32 L422.8 528.17 M432.6 526.05 L434.56 525.62 L436.52 525.19 L438.48 524.77 L439.21 524.61 M448.6 527.23 L450.56 527.65 L452.59 527.8 L454.62 527.94 L455.38 527.99 M465.13 528.04 L466.95 527.13 L468.76 526.23 L470.58 525.32 L471.26 524.99 M479.9 524.78 L481.61 525.86 L483.33 526.93 L485.38 527.39 L485.87 527.28 M495.66 525.14 L497.62 524.71 L499.62 524.58 L501.65 524.75 L502.41 524.81 M512.21 524.94 L514.09 524.2 L515.97 523.45 L517.85 522.71 L518.55 522.43 M527.94 519.36 L529.89 518.77 L532.1 518.57 L534.09 518.91 L534.59 519 M544.29 520.7 L546.26 521.09 L548.23 521.48 L550.2 521.87 L550.94 522.01 M560.61 520.74 L562.61 520.5 L564.64 520.5 L566.66 520.5 L567.42 520.5 M577.26 520.5 L579.27 520.5 L581.27 520.5 L583.28 520.5 L584.03 520.5 M593.81 520.07 L595.82 519.83 L597.82 519.59 L599.83 519.34 L600.58 519.25 M610.38 518.24 L612.41 518.12 L614.43 518 L616.45 517.89 L617.21 517.84 M627.06 517.4 L629.06 517.4 L631.07 517.4 L633.08 517.4 L633.83 517.4 M643.63 517.4 L645.66 517.4 L647.68 517.4 L649.71 517.4 L650.47 517.4 M660.31 517.58 L662.32 517.71 L664.32 517.83 L666.33 517.95 L667.08 518 M676.84 517.8 L678.83 517.43 L680.83 517.06 L682.82 516.69 L683.57 516.55 M693.31 515.81 L695.32 516.04 L697.32 516.27 L699.33 516.5 L700.08 516.59 M709.86 517.25 L711.86 517.14 L713.87 517.03 L715.87 516.92 L716.63 516.88 M726.64 516.19 L728.61 515.84 L730.59 515.5 L732.57 515.16 L733.31 515.03 M743.18 513.57 L745.11 514.24 L747.03 514.91 L748.96 515.58 L749.44 515.74 M758.88 516.29 L760.83 515.76 L762.78 515.22 L764.72 514.68 L765.45 514.48 M774.96 511.97 L776.92 511.54 L778.87 511.11 L780.83 510.67 L781.57 510.51 M791.36 508.35 L793.6 508.42 L795.6 508.54 L797.6 508.66 L798.1 508.69 M808.1 509.3 L810.1 509.59 L812.1 509.88 L814.1 510.17 L814.85 510.28 M824.61 511.4 L826.62 511.4 L828.63 511.4 L830.64 511.4 L831.39 511.4 M841.44 511.4 L843.45 511.36 L845.45 511.07 L847.45 510.78 L848.2 510.68 M857.95 509.33 L859.95 509.59 L861.95 509.84 L863.95 510.1 L864.7 510.19 M874.45 511.38 L876.47 511.23 L878.49 511.07 L880.52 510.92 L881.27 510.86 M891.08 510.72 L893.06 511.06 L895.05 511.39 L897.03 511.73 L897.78 511.85 M907.52 510.56 L909.46 510.01 L911.39 509.46 L913.33 508.92 L914.05 508.71 M923.79 508.7 L925.8 508.8 L927.81 508.9 L929.82 509 L930.57 509.03 M940.59 509 L942.59 508.86 L944.58 508.73 L946.58 508.59 L947.33 508.54 M957.31 507.87 L959.3 507.73 L961.54 507.89 L963.53 508.12 L964.03 508.17 M973.97 509.28 L975.96 509.51 L978.18 509.53 L980.08 508.86 L980.56 508.69 M989.83 505.39 L991.75 504.79 L993.77 504.67 L995.79 504.56 L996.54 504.52 M1006.37 503.97 L1008.39 503.86 L1010.4 503.93 L1012.41 504.18 L1013.16 504.28 M1022.94 505.51 L1024.95 505.77 L1026.95 505.9 L1028.96 506.01 L1029.71 506.05 M1039.74 506.62 L1041.75 506.73 L1043.76 506.8 L1045.78 506.8 L1046.53 506.8 M1056.38 506.8 L1058.4 506.8 L1060.38 506.55 L1062.36 506.22 L1063.1 506.09 M1072.99 504.43 L1074.97 504.09 L1076.95 503.82 L1078.97 503.96 L1079.73 504.02 M1089.59 504.73 L1091.61 504.86 L1093.63 504.99 L1095.65 505.12 L1096.4 505.17 M1106.25 505.78 L1108.26 505.55 L1110.26 505.25 L1112.27 504.96 L1113.02 504.85 M1122.46 502.45 L1124.19 501.37 L1125.92 500.29 L1127.65 499.21 L1128.08 498.94 M1137.26 502.42 L1139.22 502.93 L1141.26 503.19 L1143.3 503.45 L1143.81 503.51" stroke="#cf4a17" stroke-width="6.0" fill="none" stroke-linecap="round"/>
<path d="M160 1.5 V18.5 M160 346.1 V379.1 M160 1068.5 V1085 M234.46 1.5 V10.5 M234.46 354.1 V371.1 M234.46 1076.5 V1085 M308.92 1.5 V18.5 M308.92 346.1 V379.1 M308.92 1068.5 V1085 M383.37 1.5 V10.5 M383.37 354.1 V371.1 M383.37 1076.5 V1085 M457.83 1.5 V18.5 M457.83 346.1 V379.1 M457.83 1068.5 V1085 M532.29 1.5 V10.5 M532.29 354.1 V371.1 M532.29 1076.5 V1085 M606.75 1.5 V18.5 M606.75 346.1 V379.1 M606.75 1068.5 V1085 M681.2 1.5 V10.5 M681.2 354.1 V371.1 M681.2 1076.5 V1085 M755.66 1.5 V18.5 M755.66 346.1 V379.1 M755.66 1068.5 V1085 M830.12 1.5 V10.5 M830.12 354.1 V371.1 M830.12 1076.5 V1085 M904.58 1.5 V18.5 M904.58 346.1 V379.1 M904.58 1068.5 V1085 M979.03 1.5 V10.5 M979.03 354.1 V371.1 M979.03 1076.5 V1085 M1053.49 1.5 V18.5 M1053.49 346.1 V379.1 M1053.49 1068.5 V1085 M1127.95 1.5 V10.5 M1127.95 354.1 V371.1 M1127.95 1076.5 V1085 M145.5 349.3 H162 M1172.6 349.3 H1156.1 M145.5 317.1 H154 M1172.6 317.1 H1164.1 M145.5 284.9 H162 M1172.6 284.9 H1156.1 M145.5 252.7 H154 M1172.6 252.7 H1164.1 M145.5 220.5 H162 M1172.6 220.5 H1156.1 M145.5 188.3 H154 M1172.6 188.3 H1164.1 M145.5 156.1 H162 M1172.6 156.1 H1156.1 M145.5 123.9 H154 M1172.6 123.9 H1164.1 M145.5 91.7 H162 M1172.6 91.7 H1156.1 M145.5 59.5 H154 M1172.6 59.5 H1164.1 M145.5 27.3 H162 M1172.6 27.3 H1156.1 M145.5 1042 H162 M145.5 989.78 H154 M145.5 937.57 H162 M145.5 885.35 H154 M145.5 833.13 H162 M145.5 780.91 H154 M145.5 728.7 H162 M145.5 676.48 H154 M145.5 624.26 H162 M145.5 572.04 H154 M145.5 519.83 H162 M145.5 467.61 H154 M145.5 415.39 H162 M1172.6 1042 H1156.1 M1172.6 908 H1164.1 M1172.6 774 H1156.1 M1172.6 640 H1164.1 M1172.6 506 H1156.1 M1172.6 372 H1164.1" stroke="#000" stroke-width="3.6" fill="none"/>
<path d="M145.5 1.5 H1172.6 V1085 H145.5 Z M145.5 362.6 H1172.6" stroke="#000" stroke-width="4.0" fill="none"/>
<rect x="318.5" y="380" width="572" height="118.2" fill="#fff" stroke="#000" stroke-width="2.6"/>
<path d="M355 411.3 H430" stroke="#06294f" stroke-width="5" stroke-linecap="round"/>
<path d="M516.5 411.3 H591" stroke="#0b67cc" stroke-width="5" stroke-linecap="round"/>
<path d="M668 411.3 H741" stroke="#000" stroke-width="5" stroke-linecap="round"/>
<path d="M356 460.5 H376.5 M405 460.5 H425" stroke="#95a50c" stroke-width="5" stroke-linecap="round"/>
<path d="M666 460.8 H686 M714.5 460.8 H734.5" stroke="#cf4a17" stroke-width="5" stroke-linecap="round"/>
<g transform="matrix(1.0000 0 0 1.0700 0.000 -29.582)">
<text font-size="32" fill="#000"><tspan x="438.3" y="422.6">CO</tspan><tspan font-size="20.5" y="434.4">2</tspan></text>
<text x="599.5" y="422.6" font-size="32" fill="#000">CO</text>
<text font-size="32" fill="#000"><tspan x="749.5" y="422.6">O</tspan><tspan font-size="20.5" y="434.4">2</tspan><tspan y="422.6"> x10</tspan></text>
</g><g transform="matrix(1.0000 0 0 1.0700 0.000 -33.019)">
<text font-size="32" fill="#000"><tspan x="438.3" y="471.8">H</tspan><tspan font-size="20.5" y="483.6">2</tspan><tspan y="471.8"> x0.5</tspan></text>
<text font-size="32" fill="#000"><tspan x="747.2" y="471.6">C</tspan><tspan font-size="20.5" y="483.6">2</tspan><tspan y="471.6">H</tspan><tspan font-size="20.5" y="483.6">4</tspan></text>
</g>
<text x="127.3" y="361.6" font-size="40.5" text-anchor="end" font-weight="normal" fill="#000" transform="matrix(0.9700 0 0 1.0250 3.819 -9.040)">2.5</text>
<text x="127.3" y="297.2" font-size="40.5" text-anchor="end" font-weight="normal" fill="#000" transform="matrix(0.9700 0 0 1.0250 3.819 -7.430)">3.0</text>
<text x="127.3" y="232.8" font-size="40.5" text-anchor="end" font-weight="normal" fill="#000" transform="matrix(0.9700 0 0 1.0250 3.819 -5.820)">3.5</text>
<text x="127.3" y="168.4" font-size="40.5" text-anchor="end" font-weight="normal" fill="#000" transform="matrix(0.9700 0 0 1.0250 3.819 -4.210)">4.0</text>
<text x="127.3" y="104" font-size="40.5" text-anchor="end" font-weight="normal" fill="#000" transform="matrix(0.9700 0 0 1.0250 3.819 -2.600)">4.5</text>
<text x="127.3" y="39.6" font-size="40.5" text-anchor="end" font-weight="normal" fill="#000" transform="matrix(0.9700 0 0 1.0250 3.819 -0.990)">5.0</text>
<text x="127.3" y="1054.3" font-size="40.5" text-anchor="end" font-weight="normal" fill="#000" transform="matrix(0.9700 0 0 1.0250 3.819 -26.357)">0</text>
<text x="127.3" y="949.87" font-size="40.5" text-anchor="end" font-weight="normal" fill="#000" transform="matrix(0.9700 0 0 1.0250 3.819 -23.747)">50</text>
<text x="127.3" y="845.43" font-size="40.5" text-anchor="end" font-weight="normal" fill="#000" transform="matrix(0.9700 0 0 1.0250 3.819 -21.136)">100</text>
<text x="127.3" y="741" font-size="40.5" text-anchor="end" font-weight="normal" fill="#000" transform="matrix(0.9700 0 0 1.0250 3.819 -18.525)">150</text>
<text x="127.3" y="636.56" font-size="40.5" text-anchor="end" font-weight="normal" fill="#000" transform="matrix(0.9700 0 0 1.0250 3.819 -15.914)">200</text>
<text x="127.3" y="532.12" font-size="40.5" text-anchor="end" font-weight="normal" fill="#000" transform="matrix(0.9700 0 0 1.0250 3.819 -13.303)">250</text>
<text x="127.3" y="427.69" font-size="40.5" text-anchor="end" font-weight="normal" fill="#000" transform="matrix(0.9700 0 0 1.0250 3.819 -10.692)">300</text>
<text x="160" y="1133.2" font-size="40.5" text-anchor="middle" font-weight="normal" fill="#000" transform="matrix(0.9700 0 0 1.0250 4.800 -28.330)">0</text>
<text x="308.92" y="1133.2" font-size="40.5" text-anchor="middle" font-weight="normal" fill="#000" transform="matrix(0.9700 0 0 1.0250 9.267 -28.330)">5</text>
<text x="457.83" y="1133.2" font-size="40.5" text-anchor="middle" font-weight="normal" fill="#000" transform="matrix(0.9700 0 0 1.0250 13.735 -28.330)">10</text>
<text x="606.75" y="1133.2" font-size="40.5" text-anchor="middle" font-weight="normal" fill="#000" transform="matrix(0.9700 0 0 1.0250 18.202 -28.330)">15</text>
<text x="755.66" y="1133.2" font-size="40.5" text-anchor="middle" font-weight="normal" fill="#000" transform="matrix(0.9700 0 0 1.0250 22.670 -28.330)">20</text>
<text x="904.58" y="1133.2" font-size="40.5" text-anchor="middle" font-weight="normal" fill="#000" transform="matrix(0.9700 0 0 1.0250 27.137 -28.330)">25</text>
<text x="1053.49" y="1133.2" font-size="40.5" text-anchor="middle" font-weight="normal" fill="#000" transform="matrix(0.9700 0 0 1.0250 31.605 -28.330)">30</text>
<text x="1189.2" y="1054.3" font-size="40.5" text-anchor="start" font-weight="normal" fill="#000" transform="matrix(0.9700 0 0 1.0250 35.676 -26.357)">0</text>
<text x="1189.2" y="786.3" font-size="40.5" text-anchor="start" font-weight="normal" fill="#000" transform="matrix(0.9700 0 0 1.0250 35.676 -19.657)">4</text>
<text x="1189.2" y="518.3" font-size="40.5" text-anchor="start" font-weight="normal" fill="#000" transform="matrix(0.9700 0 0 1.0250 35.676 -12.957)">8</text>
<text transform="translate(31.2 185.2) rotate(-90) scale(1 1.05)" font-size="44" text-anchor="middle">Voltage [V]</text>
<text x="657.2" y="1201.7" font-size="44" text-anchor="middle">Time [h]</text>
<text transform="translate(32.4 986.5) rotate(-90) scale(1 1.06)" font-size="43.2">Gas evolution [µmol/m<tspan font-size="27" dy="-16.2">2</tspan><tspan font-size="27" dx="8" dy="32">CAM</tspan><tspan dx="2" dy="-15.8">]</tspan></text>
<text transform="translate(1260.6 968) rotate(-90) scale(1 1.05)" font-size="43.2">Gas evolution [µmol/m<tspan font-size="27" dy="-16.2">2</tspan><tspan font-size="27" dx="10" dy="31.7">C</tspan><tspan dy="-15.5">]</tspan></text>
<text x="1086.5" y="80.2" font-size="44.5" text-anchor="start" font-weight="bold" fill="#000">(a)</text>
<text x="1087.6" y="436.8" font-size="44.5" text-anchor="start" font-weight="bold" fill="#000">(b)</text>
<text x="159.2" y="118.5" font-size="40" text-anchor="start" font-weight="bold" fill="#000">4.20 V</text>
<text font-size="44" font-weight="bold" fill="#cf4a17"><tspan x="338.2" y="588.6">C</tspan><tspan font-size="26.5" y="604">2</tspan><tspan y="588.6">H</tspan><tspan font-size="26.5" y="604">4</tspan></text>
<text font-size="44" font-weight="bold" fill="#06294f"><tspan x="622.9" y="603.5">CO</tspan><tspan font-size="26.5" y="618.9">2</tspan></text>
<text font-size="44" font-weight="bold" fill="#95a50c"><tspan x="986.6" y="660.4">H</tspan><tspan font-size="26.5" y="676.2">2 x0.5</tspan></text>
<text x="619.6" y="827.6" font-size="44" font-weight="bold" fill="#0b67cc">CO</text>
<text font-size="44" font-weight="bold" fill="#000"><tspan x="412.6" y="977.8">O</tspan><tspan font-size="26.5" y="993">2</tspan><tspan font-size="26.5" dx="4.5"> x10</tspan></text>
</svg>
</body></html>
